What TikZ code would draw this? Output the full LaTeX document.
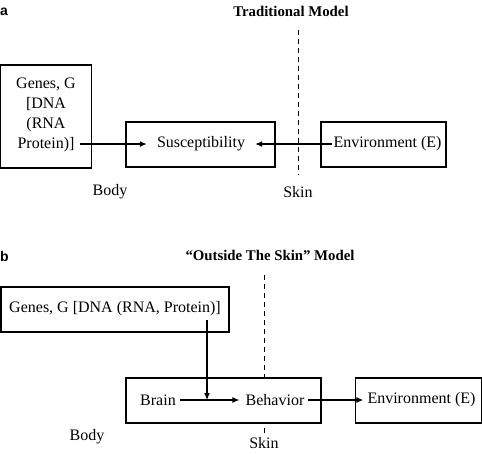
\documentclass[tikz,border=0pt]{standalone}
\usepackage{fontspec}
\setmainfont{Liberation Serif}
\newfontfamily\panelfont{Liberation Sans}
\usetikzlibrary{arrows.meta}
\tikzset{
  box/.style={draw, line width=1.1pt, fill=white, inner sep=0pt},
  txt/.style={inner sep=4pt, font=\fontsize{16}{20}\selectfont},
  ttl/.style={inner sep=0pt, font=\fontsize{14.8}{18}\selectfont\bfseries},
  panel/.style={inner sep=0pt, anchor=west, font=\fontsize{14}{16}\selectfont\panelfont\bfseries},
  link/.style={line width=1.2pt, -{Latex[length=7pt,width=6pt]}},
  skinline/.style={line width=1pt, dash pattern=on 5pt off 4pt}
}
\begin{document}
\begin{tikzpicture}[x=1pt, y=-1pt, line cap=butt, line join=miter]
              \useasboundingbox (0,0) rectangle (482,453);

              % panel a
              \node[panel] (la) at (0,12) {a};
              \node[ttl] (ta) at (291,11) {Traditional Model};
              \draw[skinline] (298,30) -- (298,175);

              \node[box, minimum width=91pt, minimum height=103pt] (genesbox) at (46,116.5) {};
              \node[box, minimum width=149pt, minimum height=45pt] (suscbox) at (200.5,144.5) {};
              \node[box, minimum width=125pt, minimum height=45pt] (envbox) at (383.5,144.5) {};

              \node[txt, align=center] (genes) at (46,115) {Genes, G\\{}[DNA\\(RNA\\Protein)]};
              \node[txt] (susc) at (201,144) {Susceptibility};
              \node[txt] (env) at (387.5,144) {Environment (E)};

              \draw[link, shorten >=6pt] (genes.east |- susc) -- (susc.west);
              \draw[link, shorten <=-3pt, shorten >=6pt] (env.west) -- (susc.east);

              \node[txt] (bodya) at (110,192) {Body};
              \node[txt] (skina) at (298,192) {Skin};

              % panel b
              \node[panel] (lb) at (0,256) {b};
              \node[ttl] (tb) at (270,255) {``Outside The Skin'' Model};
              \draw[skinline] (264,275) -- (264,433);

              \node[box, minimum width=228pt, minimum height=45pt] (genesbbox) at (115,309.5) {};
              \node[box, minimum width=195pt, minimum height=45pt] (bodybox) at (223.5,400.5) {};
              \node[box, minimum width=126pt, minimum height=45pt] (envbbox) at (418.5,400.5) {};

              \node[txt] (genesb) at (115,309) {Genes, G [DNA (RNA, Protein)]};
              \node[txt] (brain) at (158,400) {Brain};
              \node[txt] (behav) at (275,400) {Behavior};
              \node[txt] (envb) at (421.5,400) {Environment (E)};

              \draw[link, shorten >=2pt] (brain.east) -- (behav.west);
              \coordinate (join) at (207,400);
              \draw[link] (genesb.south -| join) -- (join);
              \draw[link, shorten <=-1pt] (behav.east) -- (envb.west);

              \node[txt] (bodyb) at (87,437) {Body};
              \node[txt] (skinb) at (264,443) {Skin};
            \end{tikzpicture}
\end{document}
